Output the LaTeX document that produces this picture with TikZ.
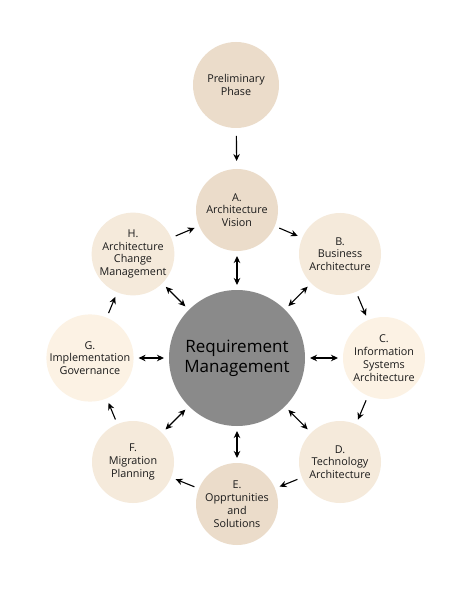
\documentclass[tikz,border=0pt]{standalone}
\usepackage{fontspec}
\setmainfont{Open Sans}
\usetikzlibrary{arrows.meta}

\definecolor{phaseDark}{HTML}{EBDCCA}
\definecolor{phaseMid}{HTML}{F5EADB}
\definecolor{phaseLight}{HTML}{FCF2E4}
\definecolor{reqGray}{HTML}{8A8A8A}
\definecolor{txtGray}{HTML}{1A1A1A}

\begin{document}
\begin{tikzpicture}[x=1pt, y=-1pt,
  phase/.style={circle, minimum size=82pt, inner sep=0pt, outer sep=5pt,
    align=center, text=txtGray, font=\fontsize{10.8}{12.8}\selectfont},
  cyc/.style={line width=1.1pt, -{Stealth[length=7pt, width=6.5pt]}},
  spoke/.style={line width=1.1pt, {Stealth[length=7pt, width=6.5pt]}-{Stealth[length=7pt, width=6.5pt]}}]

  \useasboundingbox (0,0) rectangle (474,612);
  \fill[white] (0,0) rectangle (474,612);

  \node[phase, fill=phaseDark, minimum size=86pt] (prelim) at (236,85) {Preliminary\\Phase};

  \node[phase, fill=phaseDark]  (vA) at (237,210) {A.\\Architecture\\Vision};
  \node[phase, fill=phaseMid]   (vB) at (340,254) {B.\\Business\\Architecture};
  \node[phase, fill=phaseLight] (vC) at (384,358) {C.\\Information\\Systems\\Architecture};
  \node[phase, fill=phaseMid]   (vD) at (340,462) {D.\\Technology\\Architecture};
  \node[phase, fill=phaseDark]  (vE) at (237,504) {E.\\Opprtunities\\and\\Solutions};
  \node[phase, fill=phaseMid]   (vF) at (133,462) {F.\\Migration\\Planning};
  \node[phase, fill=phaseLight] (vG) at (90,358)  {G.\\Implementation\\Governance};
  \node[phase, fill=phaseMid]   (vH) at (133,254) {H.\\Architecture\\Change\\Management};

  \node[phase, fill=reqGray, text=black, minimum size=136pt,
    font=\fontsize{17}{20}\selectfont] (reqm) at (237,358) {Requirement\\Management};

  % entry
  \draw[cyc, shorten >=3pt, shorten <=3pt] (prelim) -- (vA);

  % cycle
  \draw[cyc] (vA) -- (vB);
  \draw[cyc] (vB) -- (vC);
  \draw[cyc] (vC) -- (vD);
  \draw[cyc] (vD) -- (vE);
  \draw[cyc] (vE) -- (vF);
  \draw[cyc] (vF) -- (vG);
  \draw[cyc] (vG) -- (vH);
  \draw[cyc] (vH) -- (vA);

  % spokes
  \foreach \v in {vA,vB,vC,vD,vE,vF,vG,vH}
    \draw[spoke] (reqm) -- (\v);

\end{tikzpicture}
\end{document}
